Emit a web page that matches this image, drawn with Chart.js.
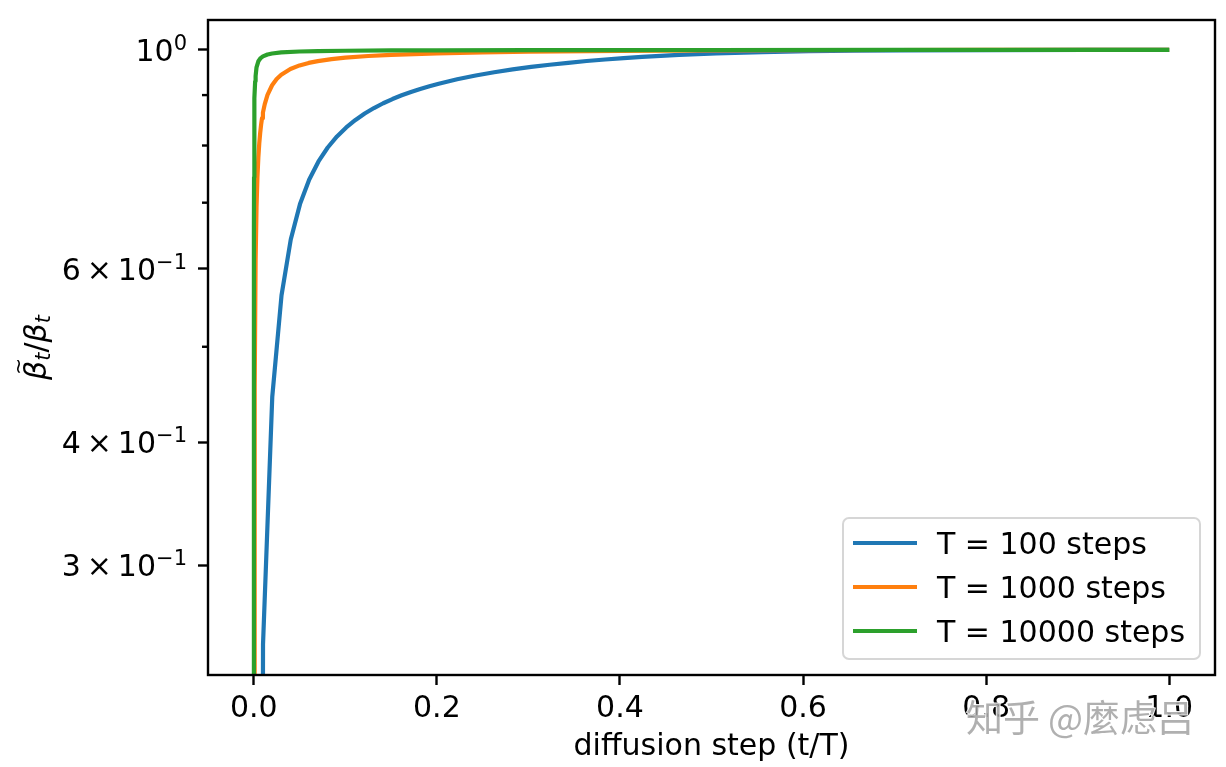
<!DOCTYPE html>
<html>
<head>
<meta charset="utf-8">
<script src="https://cdn.jsdelivr.net/npm/chart.js@4"></script>
<style>
  html, body { margin: 0; padding: 0; background: #fff; }
  canvas { display: block; }
</style>
</head>
<body>
<canvas id="chart" width="1226" height="767"></canvas>
<script>
// beta_tilde / beta ratio (first value of each run is 0)
// T = 100 steps
const blueX = [0, 0.0101, 0.0202, 0.0303, 0.0404, 0.0505, 0.0606, 0.0707, 0.0808, 0.0909,
  0.1010, 0.1111, 0.1212, 0.1313, 0.1414, 0.1515, 0.1616, 0.1717, 0.1818, 0.1919,
  0.2020, 0.2222, 0.2424, 0.2626, 0.2828, 0.3030, 0.3232, 0.3434, 0.3636, 0.3838,
  0.4040, 0.4242, 0.4444, 0.4646, 0.4848, 0.5051, 0.5556, 0.6061, 0.6566, 0.7071,
  0.8081, 0.9091, 1.0];
const blueY = [0, 0.2496, 0.4449, 0.5638, 0.6423, 0.6977, 0.7389, 0.7708, 0.7963, 0.8171,
  0.8345, 0.8493, 0.8621, 0.8732, 0.8830, 0.8917, 0.8995, 0.9066, 0.9130, 0.9189,
  0.9243, 0.9338, 0.9421, 0.9493, 0.9556, 0.9612, 0.9661, 0.9705, 0.9745, 0.9780,
  0.9811, 0.9838, 0.9863, 0.9884, 0.9903, 0.9919, 0.9951, 0.9972, 0.9984, 0.9992,
  0.9998, 1.0000, 1.0000];

// T = 1000 steps
const orangeX = [0, 0.001, 0.002, 0.003, 0.004, 0.005, 0.006, 0.007, 0.008, 0.009, 0.010,
  0.012, 0.015, 0.020, 0.025, 0.030, 0.040, 0.050, 0.060, 0.070, 0.085, 0.100,
  0.125, 0.150, 0.200, 0.250, 0.300, 0.400, 0.500, 0.600, 0.700, 0.800, 1.000];
const orangeY = [0, 0.4547, 0.6113, 0.6925, 0.7431, 0.7780, 0.8038, 0.8237, 0.8397, 0.8528, 0.8639,
  0.8812, 0.9003, 0.9209, 0.9344, 0.9438, 0.9565, 0.9646, 0.9702, 0.9743, 0.9788, 0.9821,
  0.9860, 0.9886, 0.9922, 0.9944, 0.9960, 0.9981, 0.9991, 0.9997, 0.9999, 1.0000, 1.0000];

// T = 10000 steps
const greenX = [0, 0.0001, 0.0002, 0.0003, 0.0004, 0.0005, 0.0007, 0.0010, 0.0015, 0.0020,
  0.0030, 0.0050, 0.0075, 0.0100, 0.0150, 0.0200, 0.0300, 0.0500, 0.0700, 0.1000,
  0.1500, 0.2000, 0.3000, 0.4000, 0.5000, 0.7000, 1.0000];
const greenY = [0, 0.4951, 0.6602, 0.7428, 0.7923, 0.8254, 0.8669, 0.8935, 0.9294, 0.9407,
  0.9603, 0.9739, 0.9812, 0.9852, 0.9894, 0.9917, 0.9942, 0.9964, 0.9974, 0.9982,
  0.9989, 0.9992, 0.9996, 0.9998, 0.9999, 1.0000, 1.0000];

const seriesLabels = ['T = 100 steps', 'T = 1000 steps', 'T = 10000 steps'];

const xTicks = [0, 0.2, 0.4, 0.6, 0.8, 1.0];
const yTicks = [0.3, 0.4, 0.6, 1.0];
const yTickMantissas = ['3', '4', '6', ''];
const yTickExponents = ['\u22121', '\u22121', '\u22121', '0'];
const yMinorTicks = [0.5, 0.7, 0.8, 0.9];

const FONT = "'DejaVu Sans'";
const FS = 30;
const SUB_FS = 21;
const LINE_W = 4.2;

// log axis can't show 0, push it far below like matplotlib's clipping does
function toPoints(xs, ys) {
    return xs.map((x, i) => ({ x: x, y: ys[i] > 0 ? ys[i] : 1e-6 }));
}

function drawSci(ctx, mant, exp, right, py) {
    const base = py + 10.9;
    ctx.textAlign = 'left';
    ctx.textBaseline = 'alphabetic';
    ctx.fillStyle = '#000';
    ctx.font = `${SUB_FS}px ${FONT}`;
    let x = right - ctx.measureText(exp).width;
    ctx.fillText(exp, x, base - 11);
    ctx.font = `${FS}px ${FONT}`;
    const parts = mant ? [mant, '\u00d7', '10'] : ['10'];
    for (let k = parts.length - 1; k >= 0; k--) {
        x -= ctx.measureText(parts[k]).width;
        ctx.fillText(parts[k], x, base);
        if (k > 0) x -= 6;
    }
}

const decorations = {
    id: 'decorations',
    afterDraw(chart) {
        const { ctx, chartArea: a } = chart;
        const y = chart.scales.y;
        ctx.save();

        // minor ticks on the log axis
        ctx.strokeStyle = '#000';
        ctx.lineWidth = 2.4;
        yMinorTicks.forEach(v => {
            const py = y.getPixelForValue(v);
            ctx.beginPath();
            ctx.moveTo(a.left - 6, py);
            ctx.lineTo(a.left, py);
            ctx.stroke();
        });

        // tick labels in scientific notation
        yTicks.forEach((v, i) => drawSci(ctx, yTickMantissas[i], yTickExponents[i], 187, y.getPixelForValue(v)));

        // y axis title
        ctx.save();
        ctx.translate(46, (a.top + a.bottom) / 2);
        ctx.rotate(-Math.PI / 2);
        const it = `italic ${FS}px ${FONT}`;
        const itSub = `italic ${SUB_FS}px ${FONT}`;
        const up = `${FS}px ${FONT}`;
        const pieces = [
            { t: '\u03b2', f: it, dy: 0 },
            { t: 't', f: itSub, dy: 4 },
            { t: '/', f: up, dy: 0 },
            { t: '\u03b2', f: it, dy: 0 },
            { t: 't', f: itSub, dy: 4 }
        ];
        let total = 0;
        pieces.forEach(p => { ctx.font = p.f; p.w = ctx.measureText(p.t).width; total += p.w; });
        let px = -total / 2;
        ctx.fillStyle = '#000';
        ctx.textBaseline = 'alphabetic';
        pieces.forEach((p, i) => {
            ctx.font = p.f;
            ctx.fillText(p.t, px, p.dy);
            if (i === 0) {
                ctx.font = `20px ${FONT}`;
                const tw = ctx.measureText('~').width;
                ctx.fillText('~', px + p.w / 2 + 4 - tw / 2, -21);
            }
            px += p.w;
        });
        ctx.restore();

        // axes frame
        ctx.strokeStyle = '#000';
        ctx.lineWidth = 2.4;
        ctx.strokeRect(a.left, a.top, a.right - a.left, a.bottom - a.top);

        // legend
        const lx = 843, ly = 518, lw = 357, lh = 141;
        ctx.beginPath();
        ctx.roundRect(lx, ly, lw, lh, 6);
        ctx.fillStyle = 'rgba(255,255,255,0.8)';
        ctx.fill();
        ctx.strokeStyle = 'rgba(204,204,204,0.8)';
        ctx.lineWidth = 2;
        ctx.stroke();
        chart.data.datasets.forEach((ds, i) => {
            const cy = 543 + 44 * i;
            ctx.strokeStyle = ds.borderColor;
            ctx.lineWidth = LINE_W;
            ctx.beginPath();
            ctx.moveTo(853, cy);
            ctx.lineTo(917, cy);
            ctx.stroke();
            ctx.fillStyle = '#000';
            ctx.font = `${FS}px ${FONT}`;
            ctx.textAlign = 'left';
            ctx.fillText(ds.label, 937, cy + 10.9);
        });

        // watermark
        ctx.font = "37px 'Noto Sans CJK SC'";
        ctx.lineWidth = 2;
        ctx.strokeStyle = 'rgba(255,255,255,0.9)';
        ctx.fillStyle = 'rgba(150,150,150,0.75)';
        ctx.textAlign = 'left';
        ctx.strokeText('知乎', 966, 732);
        ctx.fillText('知乎', 966, 732);
        ctx.textAlign = 'right';
        ctx.strokeText('@麼虑吕', 1194, 732);
        ctx.fillText('@麼虑吕', 1194, 732);

        ctx.restore();
    }
};

Chart.defaults.font.family = FONT;
Chart.defaults.color = '#000';

new Chart(document.getElementById('chart'), {
    type: 'line',
    data: {
        datasets: [
            { label: seriesLabels[0], data: toPoints(blueX, blueY), borderColor: '#1f77b4', borderWidth: LINE_W, order: 3 },
            { label: seriesLabels[1], data: toPoints(orangeX, orangeY), borderColor: '#ff7f0e', borderWidth: LINE_W, order: 2 },
            { label: seriesLabels[2], data: toPoints(greenX, greenY), borderColor: '#2ca02c', borderWidth: LINE_W, order: 1 }
        ]
    },
    options: {
        responsive: false,
        animation: false,
        events: [],
        layout: { padding: { top: 20, right: 11, left: 0, bottom: 0 } },
        elements: {
            line: { tension: 0, fill: false, borderJoinStyle: 'round' },
            point: { radius: 0 }
        },
        datasets: { line: { clip: 0 } },
        plugins: { legend: { display: false }, tooltip: { enabled: false } },
        scales: {
            x: {
                type: 'linear',
                min: -0.05,
                max: 1.05,
                afterBuildTicks: scale => { scale.ticks = xTicks.map(v => ({ value: v })); },
                afterFit: scale => { scale.height = 92; },
                ticks: {
                    font: { size: FS, lineHeight: 1.2 },
                    padding: 6,
                    maxRotation: 0,
                    callback: v => v.toFixed(1)
                },
                grid: {
                    drawOnChartArea: false,
                    drawTicks: true,
                    tickLength: 10,
                    tickWidth: 2.4,
                    tickColor: '#000'
                },
                border: { display: false },
                title: {
                    display: true,
                    text: 'diffusion step (t/T)',
                    font: { size: FS, lineHeight: 1 },
                    padding: { top: 0, bottom: 5 }
                }
            },
            y: {
                type: 'logarithmic',
                min: 0.2323,
                max: 1.0725,
                afterBuildTicks: scale => { scale.ticks = yTicks.map(v => ({ value: v })); },
                afterFit: scale => { scale.width = 208; },
                ticks: { display: false },
                grid: {
                    drawOnChartArea: false,
                    drawTicks: true,
                    tickLength: 10,
                    tickWidth: 2.4,
                    tickColor: '#000'
                },
                border: { display: false }
            }
        }
    },
    plugins: [decorations]
});
</script>
</body>
</html>
